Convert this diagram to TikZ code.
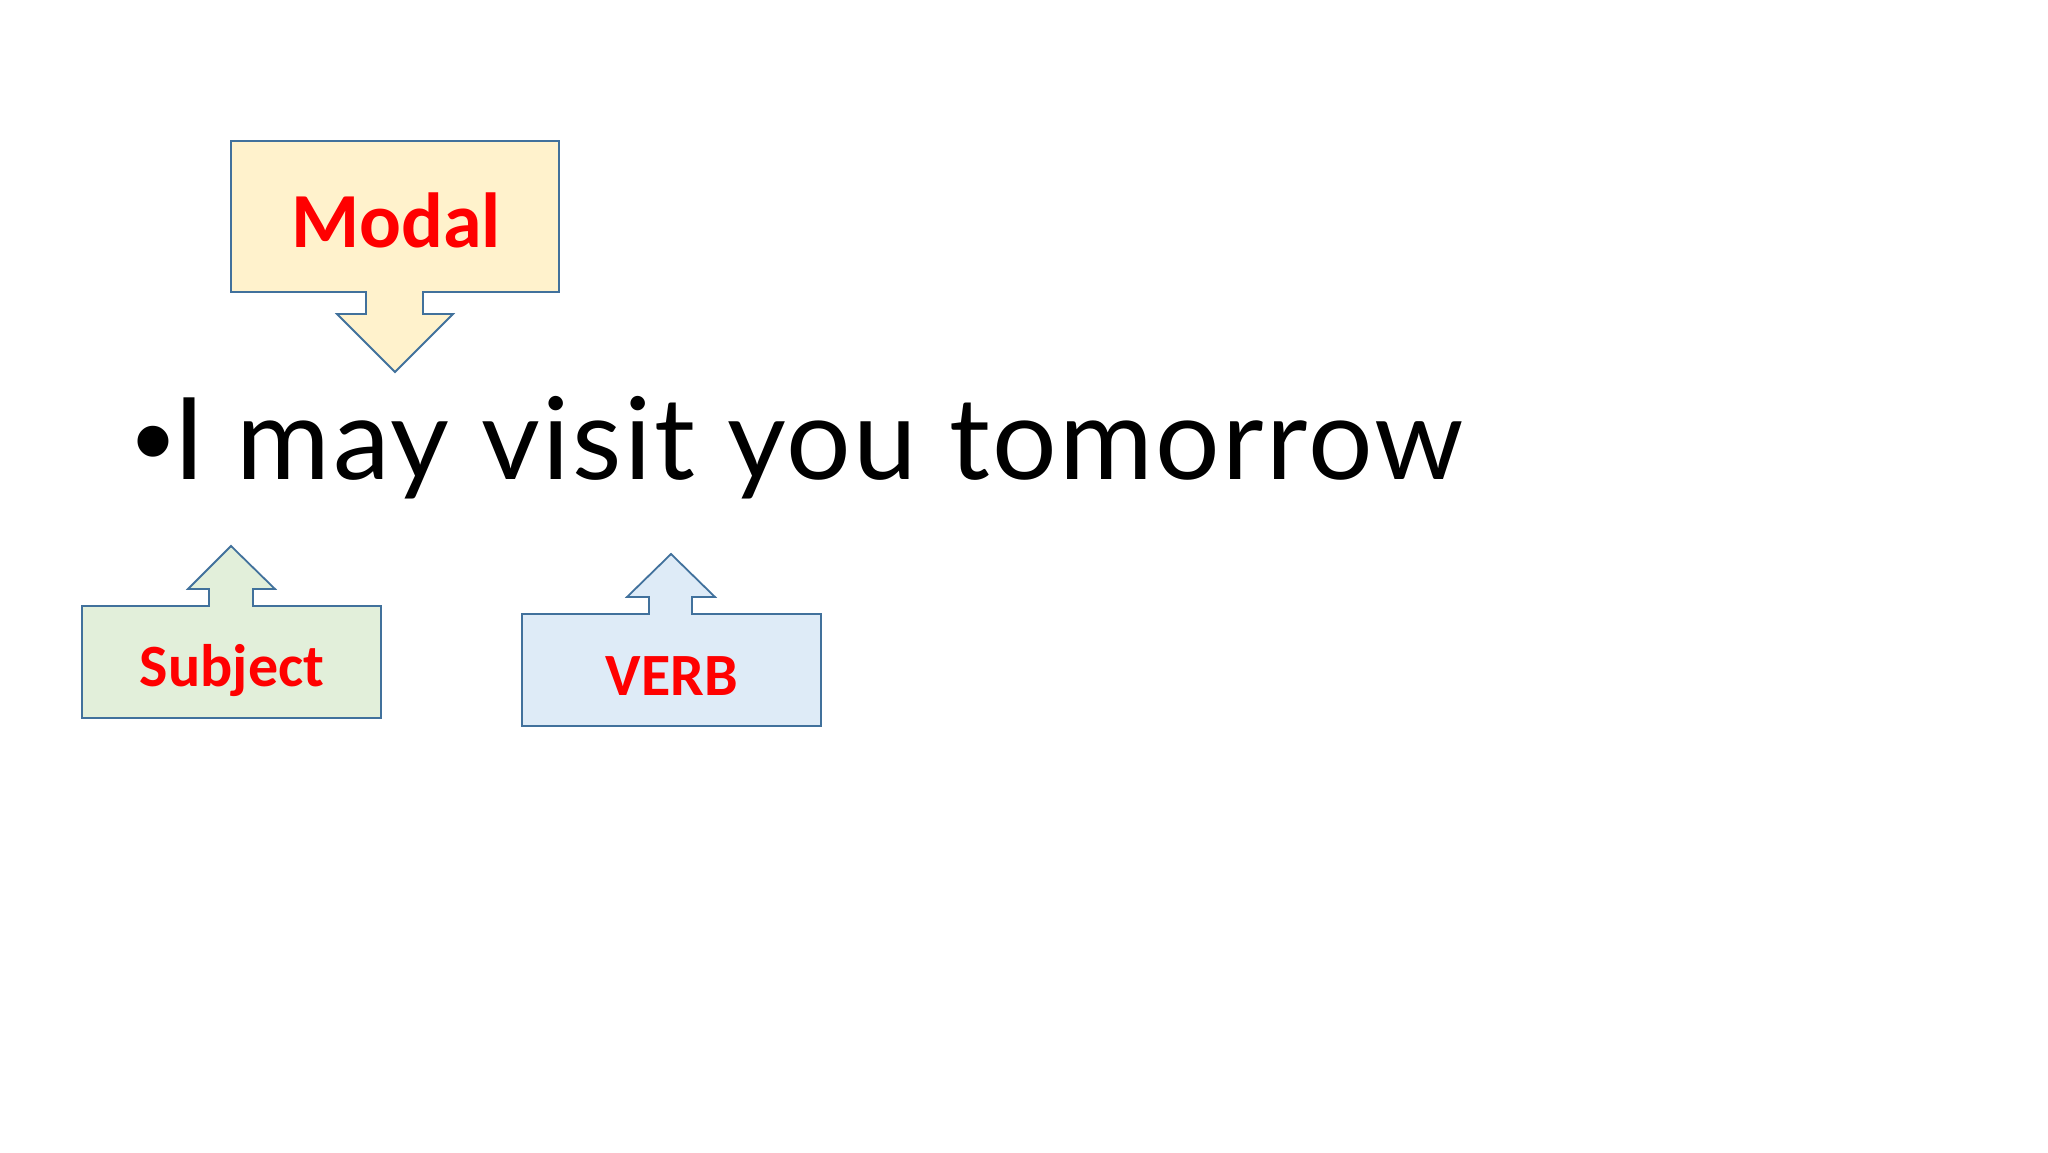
\documentclass[tikz,border=0pt]{standalone}
\usepackage{fontspec}
\setmainfont{Lato}[LetterSpace=2.2]
\newfontfamily\labelfont{Carlito}
\newfontfamily\bulletfont{Liberation Sans}
\definecolor{outl}{HTML}{41719C}
\definecolor{modalfill}{HTML}{FFF2CC}
\definecolor{subjfill}{HTML}{E2EFDA}
\definecolor{verbfill}{HTML}{DEEBF7}
\definecolor{labred}{HTML}{FF0000}
\tikzset{
  callout/.style={draw=outl, line width=1.8pt, line join=miter},
  labeltext/.style={font=\labelfont\bfseries, text=labred, inner sep=0pt},
}
\begin{document}
\begin{tikzpicture}[x=1pt,y=-1pt]
\useasboundingbox[fill=white] (0,0) rectangle (2048,1152);
% Modal callout (down arrow)
\draw[callout, fill=modalfill] (231,141) -- (559,141) -- (559,292) -- (423,292) -- (423,314) -- (453,314)
  -- (395,372) -- (337,314) -- (366,314) -- (366,292) -- (231,292) -- cycle;
\node[labeltext, font=\labelfont\bfseries\fontsize{78}{80}\selectfont, anchor=base] (modal) at (396,247) {Modal};
% Subject callout (up arrow)
\draw[callout, fill=subjfill] (82,606) -- (209,606) -- (209,589) -- (188,589) -- (231,546) -- (275,589)
  -- (253,589) -- (253,606) -- (381,606) -- (381,718) -- (82,718) -- cycle;
\node[labeltext, font=\labelfont\bfseries\fontsize{60}{62}\selectfont, anchor=base] (subject) at (232,686) {Subject};
% VERB callout (up arrow)
\draw[callout, fill=verbfill] (522,614) -- (649,614) -- (649,597) -- (627,597) -- (671,554) -- (715,597)
  -- (692,597) -- (692,614) -- (821,614) -- (821,726) -- (522,726) -- cycle;
\node[labeltext, font=\labelfont\bfseries\fontsize{60}{62}\selectfont, anchor=base] (verb) at (672,695) {VERB};
% main sentence
\node[inner sep=0pt, anchor=base east, font=\bulletfont\fontsize{114}{120}\selectfont] (bullet) at (174,479) {•};
\node[inner sep=0pt, anchor=base west, font=\fontsize{114}{120}\selectfont] (sentence) at (173,479) {I may visit you tomorrow};
\end{tikzpicture}
\end{document}
